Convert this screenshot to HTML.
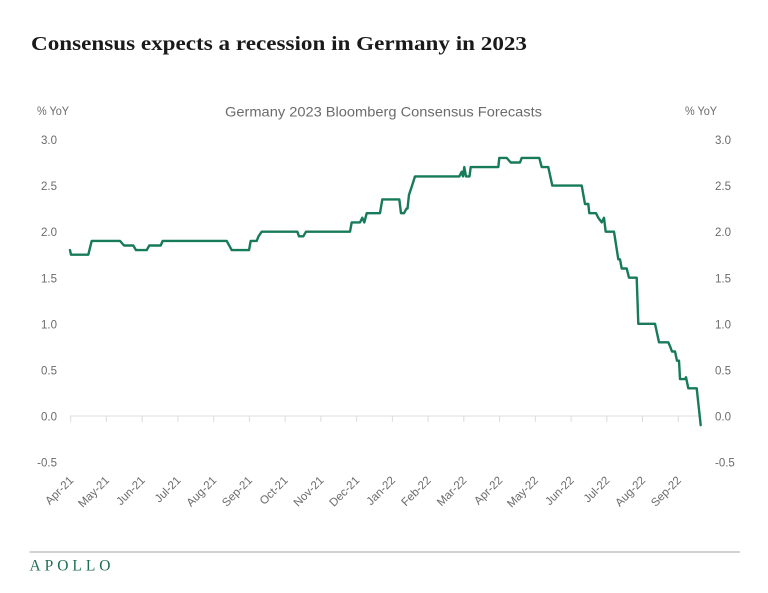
<!DOCTYPE html>
<html>
<head>
<meta charset="utf-8">
<style>
  html, body { margin: 0; padding: 0; background: #ffffff; }
  body { width: 768px; height: 593px; overflow: hidden; }
  svg { display: block; }
</style>
</head>
<body>
<svg width="768" height="593" viewBox="0 0 768 593" xmlns="http://www.w3.org/2000/svg">
  <rect x="0" y="0" width="768" height="593" fill="#ffffff"/>

  <!-- Main title -->
  <text x="31" y="50" font-family="'Liberation Serif', serif" font-weight="bold" font-size="20.5" fill="#1a1a1a" textLength="496" lengthAdjust="spacingAndGlyphs">Consensus expects a recession in Germany in 2023</text>

  <!-- Chart title -->
  <text x="225" y="116.5" font-family="'Liberation Sans', sans-serif" font-size="14" fill="#6b6b6b" textLength="317" lengthAdjust="spacingAndGlyphs">Germany 2023  Bloomberg Consensus Forecasts</text>

  <!-- Axis unit labels -->
  <g font-family="'Liberation Sans', sans-serif" font-size="11.5" fill="#6b6b6b">
    <text x="37" y="115" textLength="32" lengthAdjust="spacingAndGlyphs">% YoY</text>
    <text x="685" y="115" textLength="32" lengthAdjust="spacingAndGlyphs">% YoY</text>
  </g>

  <!-- Left Y labels -->
  <g font-family="'Liberation Sans', sans-serif" font-size="11.5" fill="#6b6b6b" text-anchor="end">
    <text x="57" y="144">3.0</text>
    <text x="57" y="190.1">2.5</text>
    <text x="57" y="236.2">2.0</text>
    <text x="57" y="282.3">1.5</text>
    <text x="57" y="328.4">1.0</text>
    <text x="57" y="374.5">0.5</text>
    <text x="57" y="420.5">0.0</text>
    <text x="57" y="466.6">-0.5</text>
  </g>
  <!-- Right Y labels -->
  <g font-family="'Liberation Sans', sans-serif" font-size="11.5" fill="#6b6b6b">
    <text x="715" y="144">3.0</text>
    <text x="715" y="190.1">2.5</text>
    <text x="715" y="236.2">2.0</text>
    <text x="715" y="282.3">1.5</text>
    <text x="715" y="328.4">1.0</text>
    <text x="715" y="374.5">0.5</text>
    <text x="715" y="420.5">0.0</text>
    <text x="715" y="466.6">-0.5</text>
  </g>

  <!-- Zero axis line and ticks -->
  <line x1="70" y1="416" x2="700" y2="416" stroke="#dcdcdc" stroke-width="1"/>
  <g stroke="#dcdcdc" stroke-width="1">
    <line x1="70.7" y1="416" x2="70.7" y2="422"/>
    <line x1="106.4" y1="416" x2="106.4" y2="422"/>
    <line x1="142.2" y1="416" x2="142.2" y2="422"/>
    <line x1="177.9" y1="416" x2="177.9" y2="422"/>
    <line x1="213.7" y1="416" x2="213.7" y2="422"/>
    <line x1="249.4" y1="416" x2="249.4" y2="422"/>
    <line x1="285.1" y1="416" x2="285.1" y2="422"/>
    <line x1="320.9" y1="416" x2="320.9" y2="422"/>
    <line x1="356.6" y1="416" x2="356.6" y2="422"/>
    <line x1="392.4" y1="416" x2="392.4" y2="422"/>
    <line x1="428.1" y1="416" x2="428.1" y2="422"/>
    <line x1="463.8" y1="416" x2="463.8" y2="422"/>
    <line x1="499.6" y1="416" x2="499.6" y2="422"/>
    <line x1="535.3" y1="416" x2="535.3" y2="422"/>
    <line x1="571.1" y1="416" x2="571.1" y2="422"/>
    <line x1="606.8" y1="416" x2="606.8" y2="422"/>
    <line x1="642.5" y1="416" x2="642.5" y2="422"/>
    <line x1="678.3" y1="416" x2="678.3" y2="422"/>
  </g>

  <!-- X labels -->
  <g font-family="'Liberation Sans', sans-serif" font-size="11.5" fill="#6b6b6b" text-anchor="end">
    <text transform="translate(74.2,481) rotate(-45)">Apr-21</text>
    <text transform="translate(109.9,481) rotate(-45)">May-21</text>
    <text transform="translate(145.7,481) rotate(-45)">Jun-21</text>
    <text transform="translate(181.4,481) rotate(-45)">Jul-21</text>
    <text transform="translate(217.2,481) rotate(-45)">Aug-21</text>
    <text transform="translate(252.9,481) rotate(-45)">Sep-21</text>
    <text transform="translate(288.6,481) rotate(-45)">Oct-21</text>
    <text transform="translate(324.4,481) rotate(-45)">Nov-21</text>
    <text transform="translate(360.1,481) rotate(-45)">Dec-21</text>
    <text transform="translate(395.9,481) rotate(-45)">Jan-22</text>
    <text transform="translate(431.6,481) rotate(-45)">Feb-22</text>
    <text transform="translate(467.3,481) rotate(-45)">Mar-22</text>
    <text transform="translate(503.1,481) rotate(-45)">Apr-22</text>
    <text transform="translate(538.8,481) rotate(-45)">May-22</text>
    <text transform="translate(574.6,481) rotate(-45)">Jun-22</text>
    <text transform="translate(610.3,481) rotate(-45)">Jul-22</text>
    <text transform="translate(646.0,481) rotate(-45)">Aug-22</text>
    <text transform="translate(681.8,481) rotate(-45)">Sep-22</text>
  </g>

  <!-- Data line -->
  <polyline fill="none" stroke="#177a5b" stroke-width="2.4" stroke-linejoin="round" stroke-linecap="round"
    points="70,250.1 71,254.7 88.3,254.7 91.7,240.9 120,240.9 124,245.5 133.3,245.5 136,250.1 146.7,250.1 149.3,245.5 160.7,245.5 162.7,240.9 226.7,240.9 231.7,250.1 249,250.1 250.7,240.9 256.7,240.9 258.5,236.3 261.7,231.7 297.3,231.7 299,236.3 303.3,236.3 306,231.7 350,231.7 351.7,222.4 360,222.4 362.3,217.8 364.3,222.4 366.7,213.2 380,213.2 382.3,199.4 399.3,199.4 401,213.2 404,213.2 406.5,208.6 407.5,208.6 409,194.8 411.7,186.7 415,176.4 459.3,176.4 461.7,171.8 463,176.4 464.3,167.1 466,176.4 469.5,176.4 470.7,167.1 498.3,167.1 499.3,157.9 506.7,157.9 510.7,162.5 520,162.5 521.7,157.9 539.3,157.9 541.7,167.1 548.3,167.1 552.3,185.6 581.7,185.6 585,204 588.3,204 589.3,213.2 596,213.2 598.3,217.8 601.7,222.4 604,217.8 605.7,231.7 614,231.7 618.3,259.3 620,259.3 621.7,268.5 626.7,268.5 629,277.7 636.7,277.7 638.3,323.8 655,323.8 659,342.3 668.3,342.3 670.3,346.9 672,351.5 675,351.5 677,360.7 679,360.7 680,379.1 685,379.1 686,377.3 688.3,388.3 696.7,388.3 700.7,425.2"/>

  <!-- Footer separator -->
  <line x1="29.5" y1="552" x2="740" y2="552" stroke="#a6a6a6" stroke-width="1"/>

  <!-- APOLLO logo text -->
  <text x="29.5" y="570.7" font-family="'Liberation Serif', serif" font-size="15.5" fill="#1c6e52" textLength="81" lengthAdjust="spacing">APOLLO</text>
</svg>
</body>
</html>
